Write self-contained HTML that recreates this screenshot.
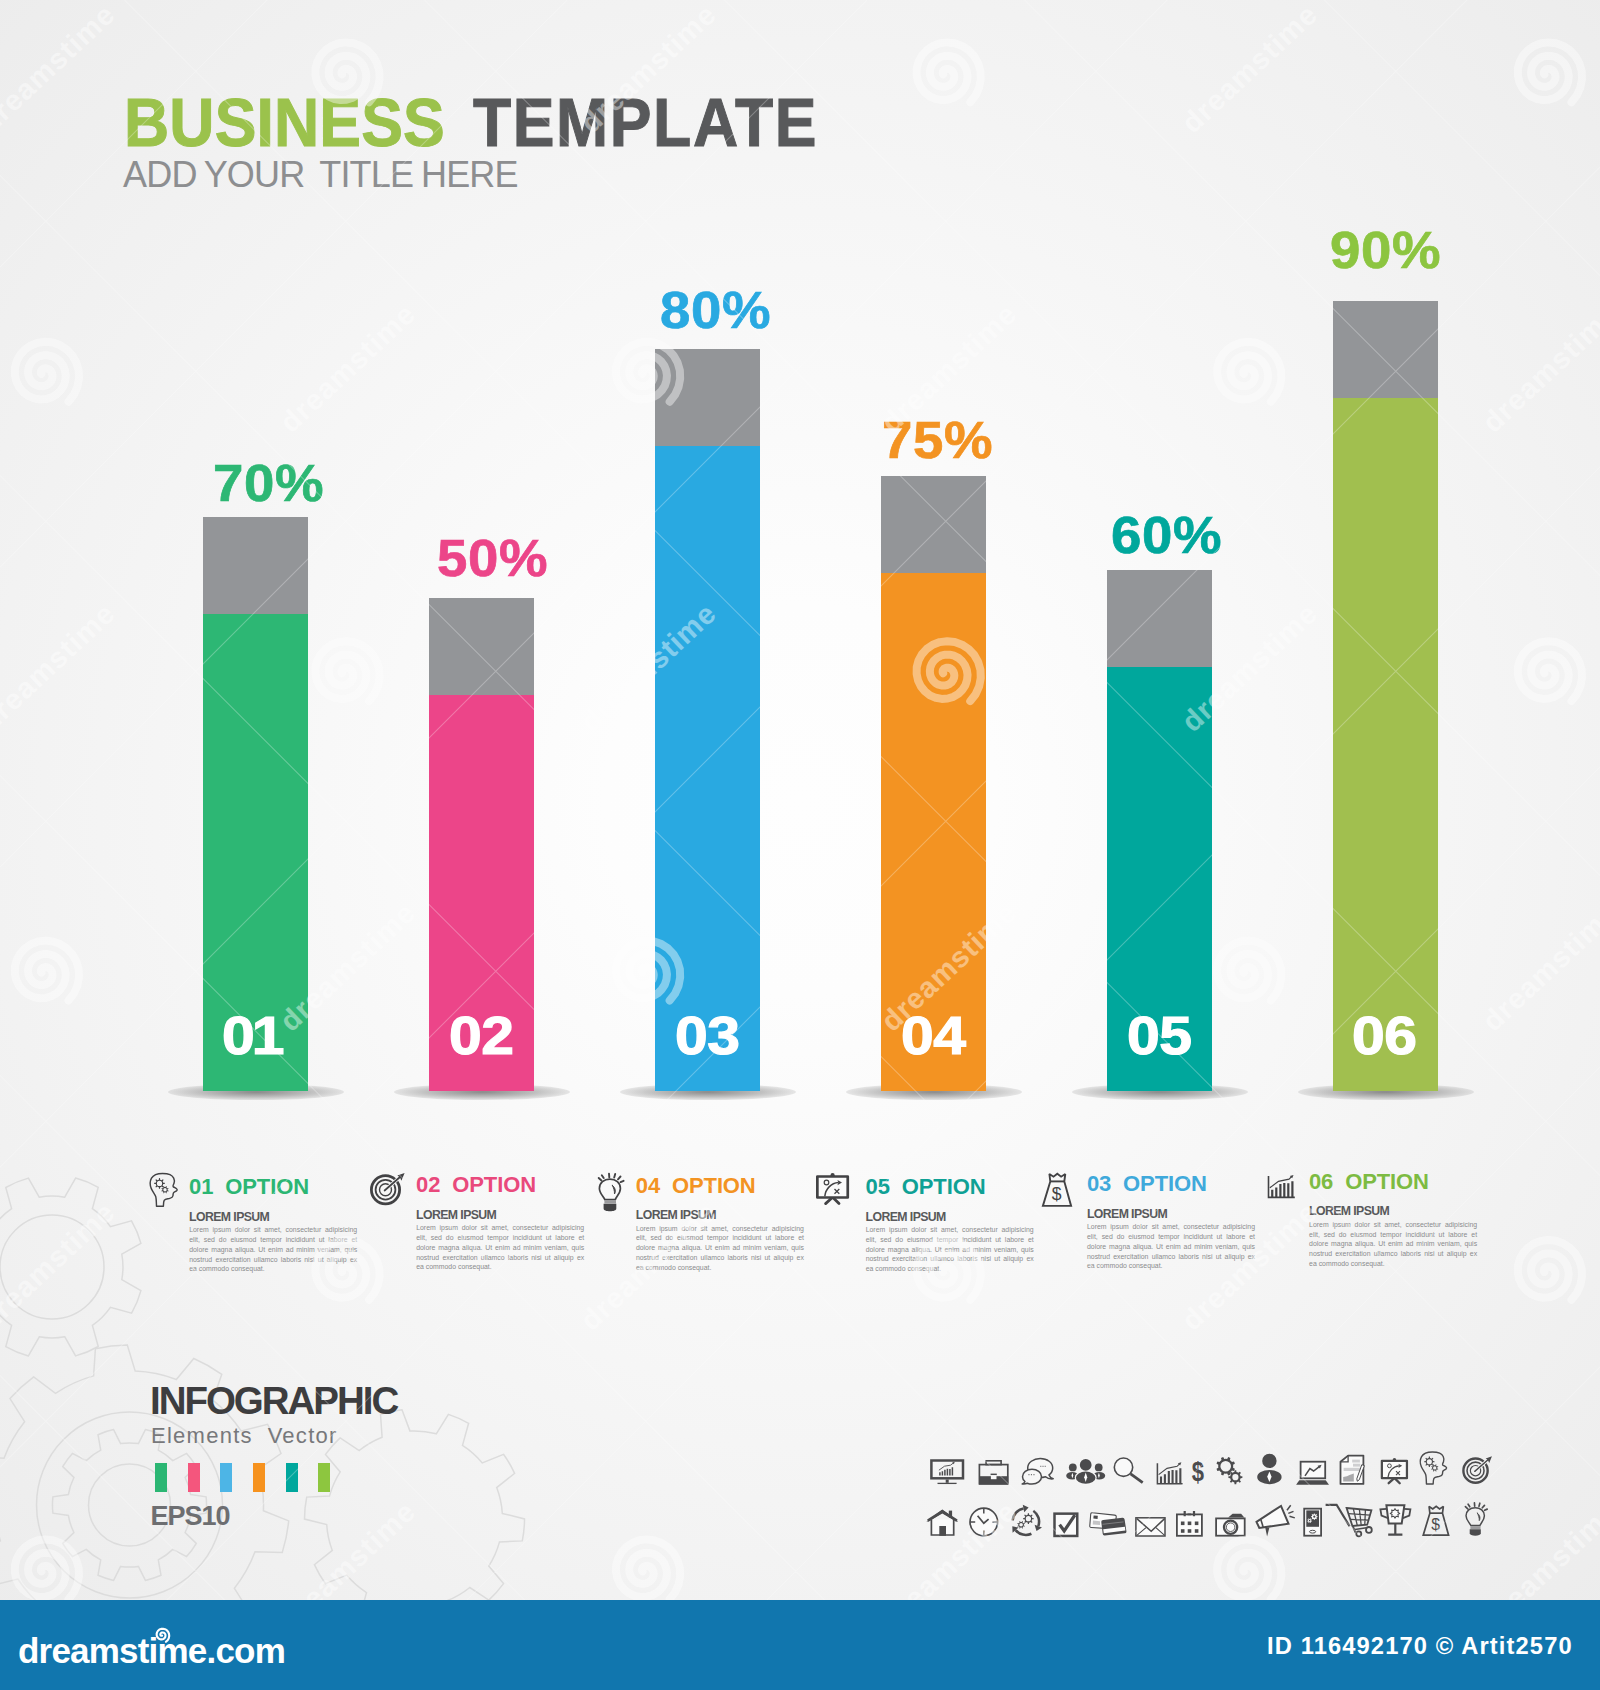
<!DOCTYPE html>
<html lang="en">
<head>
<meta charset="utf-8">
<title>Business Template Infographic</title>
<style>
*{margin:0;padding:0;box-sizing:border-box}
html,body{width:1600px;height:1690px;overflow:hidden}
body{font-family:"Liberation Sans",sans-serif;position:relative;
background:radial-gradient(circle 1150px at 800px 800px,#fefefe 0,#fdfdfd 17%,#ececec 100%);}
.abs{position:absolute;white-space:nowrap;line-height:1}
#t1{left:123.5px;top:88.2px;font-size:68px;font-weight:bold;color:#9bc24c;letter-spacing:.15px;-webkit-text-stroke:1px #9bc24c;transform:scaleX(.92);transform-origin:0 0}
#t2{left:472.6px;top:88.2px;font-size:68px;font-weight:bold;color:#58595b;letter-spacing:1.72px;-webkit-text-stroke:1px #58595b;transform:scaleX(.92);transform-origin:0 0}
#t3{left:123px;top:157px;font-size:36px;color:#8d8e90;letter-spacing:-.8px;word-spacing:-1.5px}
.bar{position:absolute;width:105px}
.bar .g{position:absolute;left:0;top:0;width:105px;height:98px;background:#939598}
.bar .c{position:absolute;left:0;top:97px;width:105px;bottom:0}
.sh{position:absolute;top:1084px;height:16px;width:176px;border-radius:50%;
background:radial-gradient(ellipse at center,rgba(95,95,95,.72) 0%,rgba(125,125,125,.5) 40%,rgba(165,165,165,.22) 72%,rgba(200,200,200,0) 100%)}
.pct{font-size:51px;font-weight:bold;letter-spacing:.6px;transform:scaleX(1.07);transform-origin:0 0;-webkit-text-stroke:.7px currentColor}
.num{top:1009.2px;font-size:53.5px;font-weight:bold;color:#fff;letter-spacing:-.4px;transform:scaleX(1.1);transform-origin:0 0;-webkit-text-stroke:1.2px #fff}
.oh{font-size:22px;font-weight:bold;word-spacing:0;letter-spacing:-.12px}
.ol{font-size:12.3px;font-weight:bold;color:#58595b;letter-spacing:-.6px}
.ob{position:absolute;width:168px;font-size:6.9px;line-height:9.75px;color:#8a8b8d}
.ob span{display:block;text-align:justify;text-align-last:justify;white-space:nowrap}
.ob span.l{text-align-last:left}
#foot{position:absolute;left:0;top:1600px;width:1600px;height:90px;background:#1176ae}
#logo{left:18px;top:1633px;font-size:35px;font-weight:bold;color:#fff;letter-spacing:-.8px}
#idt{left:1267px;top:1634.5px;font-size:23.7px;font-weight:bold;color:#fff;letter-spacing:1.13px}
#ig1{left:150px;top:1381.5px;font-size:38.5px;font-weight:bold;color:#3d3d3f;letter-spacing:-2.03px}
#ig2{left:151px;top:1425px;font-size:22px;color:#77787b;letter-spacing:1.27px}
#ig3{left:150.5px;top:1503px;font-size:27px;font-weight:bold;color:#6d6e71;letter-spacing:-1px}
.sw{position:absolute;top:1463px;width:12px;height:29px}
svg{position:absolute;overflow:visible}

</style>
</head>
<body>

<!-- background gears -->
<svg width="1600" height="1690" style="left:0;top:0" viewBox="0 0 1600 1690" fill="none" stroke="#dcdcdc" stroke-width="1.5">
<path d="M121.8 1279.7L140.9 1290.6A92 92 0 0 1 131.6 1313.2L110.4 1307.4A71 71 0 0 1 92.4 1325.4L98.2 1346.5A92 92 0 0 1 75.6 1355.9L64.8 1336.8A71 71 0 0 1 39.3 1336.8L28.4 1355.9A92 92 0 0 1 5.8 1346.6L11.6 1325.4A71 71 0 0 1 -6.4 1307.4L-27.5 1313.2A92 92 0 0 1 -36.9 1290.6L-17.8 1279.8A71 71 0 0 1 -17.8 1254.3L-36.9 1243.4A92 92 0 0 1 -27.6 1220.8L-6.4 1226.6A71 71 0 0 1 11.6 1208.6L5.8 1187.5A92 92 0 0 1 28.4 1178.1L39.2 1197.2A71 71 0 0 1 64.7 1197.2L75.6 1178.1A92 92 0 0 1 98.2 1187.4L92.4 1208.6A71 71 0 0 1 110.4 1226.6L131.5 1220.8A92 92 0 0 1 140.9 1243.4L121.8 1254.2A71 71 0 0 1 121.8 1279.7Z"/>
<circle cx="52" cy="1267" r="52"/>
<path d="M263.4 1510.7L288.7 1520.9A160 160 0 0 1 282.3 1552.4L255 1551.8A134 134 0 0 1 234.4 1588.3L249 1611.4A160 160 0 0 1 225.3 1633.1L203.5 1616.7A134 134 0 0 1 165.4 1634.1L163.6 1661.3A160 160 0 0 1 131.7 1665L123.8 1638.9A134 134 0 0 1 82.7 1630.5L65.2 1651.5A160 160 0 0 1 37.2 1635.7L46.2 1609.9A134 134 0 0 1 17.8 1579L-8.6 1585.7A160 160 0 0 1 -22 1556.5L0.4 1540.9A134 134 0 0 1 -4.4 1499.3L-29.7 1489.1A160 160 0 0 1 -23.3 1457.6L4 1458.2A134 134 0 0 1 24.6 1421.7L10 1398.6A160 160 0 0 1 33.7 1376.9L55.5 1393.3A134 134 0 0 1 93.6 1375.9L95.4 1348.7A160 160 0 0 1 127.3 1345L135.2 1371.1A134 134 0 0 1 176.3 1379.5L193.8 1358.5A160 160 0 0 1 221.8 1374.3L212.8 1400.1A134 134 0 0 1 241.2 1431L267.6 1424.3A160 160 0 0 1 281 1453.5L258.6 1469.1A134 134 0 0 1 263.4 1510.7Z"/>
<circle cx="129.5" cy="1505" r="93"/>
<path d="M190.6 1494.5L206.1 1496.8A77 77 0 0 1 206.1 1513.2L190.6 1515.5A62 62 0 0 1 185.1 1532.5L196.3 1543.4A77 77 0 0 1 186.6 1556.6L172.8 1549.4A62 62 0 0 1 158.3 1559.9L161 1575.3A77 77 0 0 1 145.4 1580.4L138.4 1566.4A62 62 0 0 1 120.6 1566.4L113.6 1580.4A77 77 0 0 1 98 1575.3L100.7 1559.9A62 62 0 0 1 86.2 1549.4L72.4 1556.6A77 77 0 0 1 62.7 1543.4L73.9 1532.5A62 62 0 0 1 68.4 1515.5L52.9 1513.2A77 77 0 0 1 52.9 1496.8L68.4 1494.5A62 62 0 0 1 73.9 1477.5L62.7 1466.6A77 77 0 0 1 72.4 1453.4L86.2 1460.6A62 62 0 0 1 100.7 1450.1L98 1434.7A77 77 0 0 1 113.6 1429.6L120.6 1443.6A62 62 0 0 1 138.4 1443.6L145.4 1429.6A77 77 0 0 1 161 1434.7L158.3 1450.1A62 62 0 0 1 172.8 1460.6L186.6 1453.4A77 77 0 0 1 196.3 1466.6L185.1 1477.5A62 62 0 0 1 190.6 1494.5Z"/>
<circle cx="129.5" cy="1505" r="41"/>
<path d="M502.3 1513.4L524.5 1518.9A110 110 0 0 1 522.3 1540.9L499.5 1541.9A88 88 0 0 1 488.8 1566.1L503.5 1583.6A110 110 0 0 1 488.8 1600.1L469.8 1587.5A88 88 0 0 1 446.9 1600.8L448.5 1623.6A110 110 0 0 1 427 1628.3L419 1606.9A88 88 0 0 1 392.7 1604.2L380.6 1623.6A110 110 0 0 1 360.4 1614.7L366.5 1592.7A88 88 0 0 1 346.7 1575.1L325.5 1583.7A110 110 0 0 1 314.4 1564.6L332.3 1550.4A88 88 0 0 1 326.7 1524.6L304.5 1519.1A110 110 0 0 1 306.7 1497.1L329.5 1496.1A88 88 0 0 1 340.2 1471.9L325.5 1454.4A110 110 0 0 1 340.2 1437.9L359.2 1450.5A88 88 0 0 1 382.1 1437.2L380.5 1414.4A110 110 0 0 1 402 1409.7L410 1431.1A88 88 0 0 1 436.3 1433.8L448.4 1414.4A110 110 0 0 1 468.6 1423.3L462.5 1445.3A88 88 0 0 1 482.3 1462.9L503.5 1454.3A110 110 0 0 1 514.6 1473.4L496.7 1487.6A88 88 0 0 1 502.3 1513.4Z"/>
</svg>

<!-- title -->
<div class="abs" id="t1">BUSINESS</div>
<div class="abs" id="t2">TEMPLATE</div>
<div class="abs" id="t3">ADD YOUR&nbsp; TITLE HERE</div>

<!-- bar shadows -->
<div class="sh" style="left:168px"></div>
<div class="sh" style="left:394px"></div>
<div class="sh" style="left:620px"></div>
<div class="sh" style="left:846px"></div>
<div class="sh" style="left:1072px"></div>
<div class="sh" style="left:1298px"></div>

<!-- bars -->
<div class="bar" style="left:203px;top:517px;height:574px"><div class="g"></div><div class="c" style="background:#2db774"></div></div>
<div class="bar" style="left:429px;top:598px;height:493px"><div class="g"></div><div class="c" style="background:#ec4589"></div></div>
<div class="bar" style="left:655px;top:349px;height:742px"><div class="g"></div><div class="c" style="background:#29a9e1"></div></div>
<div class="bar" style="left:881px;top:476px;height:615px"><div class="g"></div><div class="c" style="background:#f39322"></div></div>
<div class="bar" style="left:1107px;top:570px;height:521px"><div class="g"></div><div class="c" style="background:#00a79c"></div></div>
<div class="bar" style="left:1333px;top:301px;height:790px"><div class="g"></div><div class="c" style="background:#a1bf4f"></div></div>

<!-- percentages -->
<div class="abs pct" id="p1" style="left:213px;top:458px;color:#2db774">70%</div>
<div class="abs pct" id="p2" style="left:437px;top:533px;color:#ec4589">50%</div>
<div class="abs pct" id="p3" style="left:660px;top:285px;color:#29a9e1">80%</div>
<div class="abs pct" id="p4" style="left:882px;top:415px;color:#f39322">75%</div>
<div class="abs pct" id="p5" style="left:1111px;top:510px;color:#00a79c">60%</div>
<div class="abs pct" id="p6" style="left:1330px;top:225px;color:#8cc540">90%</div>

<!-- bar numbers -->
<div class="abs num" id="n1" style="left:221.5px;letter-spacing:-2.6px">01</div>
<div class="abs num" id="n2" style="left:449.2px">02</div>
<div class="abs num" id="n3" style="left:674.5px">03</div>
<div class="abs num" id="n4" style="left:900.7px">04</div>
<div class="abs num" id="n5" style="left:1126.8px">05</div>
<div class="abs num" id="n6" style="left:1352.3px">06</div>

<!-- options -->
<div class="abs oh" id="oh0" style="left:189.1px;top:1176.3px;color:#2bb673">01&nbsp; OPTION</div>
<div class="abs ol" id="ol0" style="left:189.1px;top:1210.7px">LOREM IPSUM</div>
<div class="ob" id="ob0" style="left:189.2px;top:1225.3px"><span>Lorem ipsum dolor sit amet, consectetur adipisicing</span><span>elit, sed do eiusmod tempor incididunt ut labore et</span><span>dolore magna aliqua. Ut enim ad minim veniam, quis</span><span>nostrud exercitation ullamco laboris nisi ut aliquip ex</span><span class="l">ea commodo consequat.</span></div>
<div class="abs oh" id="oh1" style="left:416.1px;top:1174.4px;color:#e9497c">02&nbsp; OPTION</div>
<div class="abs ol" id="ol1" style="left:416.1px;top:1208.8px">LOREM IPSUM</div>
<div class="ob" id="ob1" style="left:416.2px;top:1223.4px"><span>Lorem ipsum dolor sit amet, consectetur adipisicing</span><span>elit, sed do eiusmod tempor incididunt ut labore et</span><span>dolore magna aliqua. Ut enim ad minim veniam, quis</span><span>nostrud exercitation ullamco laboris nisi ut aliquip ex</span><span class="l">ea commodo consequat.</span></div>
<div class="abs oh" id="oh2" style="left:635.8px;top:1174.6px;color:#f39322">04&nbsp; OPTION</div>
<div class="abs ol" id="ol2" style="left:635.8px;top:1209px">LOREM IPSUM</div>
<div class="ob" id="ob2" style="left:635.9px;top:1223.6px"><span>Lorem ipsum dolor sit amet, consectetur adipisicing</span><span>elit, sed do eiusmod tempor incididunt ut labore et</span><span>dolore magna aliqua. Ut enim ad minim veniam, quis</span><span>nostrud exercitation ullamco laboris nisi ut aliquip ex</span><span class="l">ea commodo consequat.</span></div>
<div class="abs oh" id="oh3" style="left:865.6px;top:1176.1px;color:#0fa195">05&nbsp; OPTION</div>
<div class="abs ol" id="ol3" style="left:865.6px;top:1210.5px">LOREM IPSUM</div>
<div class="ob" id="ob3" style="left:865.7px;top:1225.1px"><span>Lorem ipsum dolor sit amet, consectetur adipisicing</span><span>elit, sed do eiusmod tempor incididunt ut labore et</span><span>dolore magna aliqua. Ut enim ad minim veniam, quis</span><span>nostrud exercitation ullamco laboris nisi ut aliquip ex</span><span class="l">ea commodo consequat.</span></div>
<div class="abs oh" id="oh4" style="left:1086.9px;top:1173.4px;color:#3fa9db">03&nbsp; OPTION</div>
<div class="abs ol" id="ol4" style="left:1086.9px;top:1207.8px">LOREM IPSUM</div>
<div class="ob" id="ob4" style="left:1087px;top:1222.4px"><span>Lorem ipsum dolor sit amet, consectetur adipisicing</span><span>elit, sed do eiusmod tempor incididunt ut labore et</span><span>dolore magna aliqua. Ut enim ad minim veniam, quis</span><span>nostrud exercitation ullamco laboris nisi ut aliquip ex</span><span class="l">ea commodo consequat.</span></div>
<div class="abs oh" id="oh5" style="left:1309px;top:1170.8px;color:#7dbb42">06&nbsp; OPTION</div>
<div class="abs ol" id="ol5" style="left:1309px;top:1205.2px">LOREM IPSUM</div>
<div class="ob" id="ob5" style="left:1309.1px;top:1219.8px"><span>Lorem ipsum dolor sit amet, consectetur adipisicing</span><span>elit, sed do eiusmod tempor incididunt ut labore et</span><span>dolore magna aliqua. Ut enim ad minim veniam, quis</span><span>nostrud exercitation ullamco laboris nisi ut aliquip ex</span><span class="l">ea commodo consequat.</span></div>

<!-- bottom-left info -->
<div class="abs" id="ig1">INFOGRAPHIC</div>
<div class="abs" id="ig2">Elements&nbsp; Vector</div>
<div class="sw" style="left:155px;background:#2bb673"></div>
<div class="sw" style="left:188px;background:#f4567d"></div>
<div class="sw" style="left:220px;background:#4db5e6"></div>
<div class="sw" style="left:253px;background:#f6921e"></div>
<div class="sw" style="left:286px;background:#00a79d"></div>
<div class="sw" style="left:318px;background:#8dc63f"></div>
<div class="abs" id="ig3">EPS10</div>

<!-- icons -->
<svg width="1600" height="1690" style="left:0;top:0" viewBox="0 0 1600 1690">
<defs>
<g id="i-head" fill="none" stroke-linejoin="round" stroke-linecap="round">
<path stroke-width="1.45" d="M22.5 8.4C17.5 8.4 13.3 10 11.5 13.2C9.6 16.6 10 20.5 11.3 23.6C12.6 26.6 14.9 29.3 15.7 31.5C16.3 33.3 16.3 35.5 16.5 41.2L23.4 41.2C23.5 38.5 23.5 36.6 24.2 35.4C25.2 33.8 27.6 34 29.8 33.4C31.6 32.9 32.7 32.2 32.9 31C33.1 29.9 33 28.6 33.5 27.9C34.2 26.9 35.8 26.6 36.8 25.5C37.4 24.8 37.1 24.1 36.3 23.5C35.2 22.7 33.6 22.3 33.1 21.5C32.7 20.8 33.5 19.6 34 18.3C34.6 16.7 34.5 14.8 33.7 13.1C32.9 11.4 31.7 10.4 30 9.6C28 8.7 25.5 8.4 22.5 8.4Z"/>
<path fill="currentColor" stroke="none" fill-rule="evenodd" d="M23.24 17.75L24.77 17.86A5.3 5.3 0 0 1 24.77 18.94L23.24 19.05A3.8 3.8 0 0 1 22.61 20.59L23.61 21.75A5.3 5.3 0 0 1 22.85 22.51L21.69 21.51A3.8 3.8 0 0 1 20.15 22.14L20.04 23.67A5.3 5.3 0 0 1 18.96 23.67L18.85 22.14A3.8 3.8 0 0 1 17.31 21.51L16.15 22.51A5.3 5.3 0 0 1 15.39 21.75L16.39 20.59A3.8 3.8 0 0 1 15.76 19.05L14.23 18.94A5.3 5.3 0 0 1 14.23 17.86L15.76 17.75A3.8 3.8 0 0 1 16.39 16.21L15.39 15.05A5.3 5.3 0 0 1 16.15 14.29L17.31 15.29A3.8 3.8 0 0 1 18.85 14.66L18.96 13.13A5.3 5.3 0 0 1 20.04 13.13L20.15 14.66A3.8 3.8 0 0 1 21.69 15.29L22.85 14.29A5.3 5.3 0 0 1 23.61 15.05L22.61 16.21A3.8 3.8 0 0 1 23.24 17.75ZM22.1 18.4a2.6 2.6 0 1 0 -5.2 0a2.6 2.6 0 1 0 5.2 0Z"/>
<path fill="currentColor" stroke="none" fill-rule="evenodd" d="M27.64 25.28L28.64 25.78A3.8 3.8 0 0 1 28.35 26.5L27.28 26.14A2.7 2.7 0 0 1 26.45 26.98L26.81 28.04A3.8 3.8 0 0 1 26.1 28.34L25.6 27.33A2.7 2.7 0 0 1 24.42 27.34L23.92 28.34A3.8 3.8 0 0 1 23.2 28.05L23.56 26.98A2.7 2.7 0 0 1 22.72 26.15L21.66 26.51A3.8 3.8 0 0 1 21.36 25.8L22.37 25.3A2.7 2.7 0 0 1 22.36 24.12L21.36 23.62A3.8 3.8 0 0 1 21.65 22.9L22.72 23.26A2.7 2.7 0 0 1 23.55 22.42L23.19 21.36A3.8 3.8 0 0 1 23.9 21.06L24.4 22.07A2.7 2.7 0 0 1 25.58 22.06L26.08 21.06A3.8 3.8 0 0 1 26.8 21.35L26.44 22.42A2.7 2.7 0 0 1 27.28 23.25L28.34 22.89A3.8 3.8 0 0 1 28.64 23.6L27.63 24.1A2.7 2.7 0 0 1 27.64 25.28ZM26.7 24.7a1.7 1.7 0 1 0 -3.4 0a1.7 1.7 0 1 0 3.4 0Z"/>
</g>
<g id="i-target" fill="none">
<circle cx="25.5" cy="24.7" r="14.1" stroke-width="2.8"/>
<circle cx="25.5" cy="24.7" r="9.9" stroke-width="1.8"/>
<circle cx="25.5" cy="24.7" r="6" stroke-width="1.4"/>
<path d="M24.6 25.5L40 12" stroke="#f6f6f6" stroke-width="3.6"/>
<path d="M24.6 25.5L40 12" stroke-width="1.7" stroke-linecap="round"/>
<path d="M44.6 7.9L37.3 10.5L39.9 12.3L41.4 15.8Z" fill="currentColor" stroke="none"/>
</g>
<g id="i-bulb" fill="none" stroke-linecap="round">
<path stroke-width="1.7" d="M18.9 34.6L29.3 34.6C30.4 31.4 34.4 28.3 34.4 23.4C34.4 18 29.8 14.1 23.9 14.1C18 14.1 13.4 18 13.4 23.4C13.4 28.3 17.6 31.4 18.9 34.6Z" stroke-linejoin="round"/>
<path d="M26.3 20.3C29.1 22.6 30.4 26 28.5 29C28.6 26 27.7 23 26.3 20.3Z" fill="currentColor" stroke-width=".9"/>
<path stroke-width="1.9" d="M12.7 13L15.4 15.5M15.8 10.2L17.7 13.1M23 8.7L23.3 12.4M29.2 9L28.2 12.5M34.5 11.5L32 14.3M37.6 15.8L34.6 17.1"/>
<rect x="18.4" y="35.2" width="11.6" height="3.3" fill="#9b9b9d" stroke="none"/>
<path d="M17.6 38.8L30.3 38.8L30.3 43.5C30.3 45.3 27.5 46.3 24 46.3C20.4 46.3 17.6 45.3 17.6 43.5Z" fill="currentColor" stroke="none"/>
</g>
<g id="i-board" fill="none">
<circle cx="26.6" cy="13.2" r="2.1" fill="currentColor" stroke="none"/>
<path d="M25.8 36L19.6 41.6M27.4 36L33 41.6" stroke-width="2.8" stroke-linecap="round"/>
<rect x="11.35" y="14.5" width="30.4" height="21" stroke-width="2.7" fill="#fbfbfb" stroke-linejoin="round"/>
<circle cx="20.5" cy="20.5" r="2.3" stroke-width="1.2"/>
<path d="M18.8 34.4C19.5 27 25 21 32.5 20.6" stroke-width="1.5"/>
<path d="M36 20.5L31.4 17.9L32.4 20.5L31.4 23.2Z" fill="currentColor" stroke="none"/>
<path d="M28.5 27L33.3 31.8M33.3 27L28.5 31.8" stroke-width="1.3"/>
</g>
<g id="i-bag" fill="none" stroke-linejoin="miter" stroke-miterlimit="2.2">
<path stroke-width="1.9" d="M10.9 40.9L39.1 40.9L32.3 16.4L33.3 9L29.1 11.7L25.3 8.7L21.5 11.7L17.4 9L18.3 16.4Z"/>
<path stroke-width="1.9" d="M18.3 16.4L32.3 16.4"/>
<text x="24.7" y="34.7" font-size="17.5" text-anchor="middle" fill="currentColor" stroke="none" style="font-family:'Liberation Sans',sans-serif">$</text>
</g>
<g id="i-chart" fill="none">
<path d="M12.5 15.9L12.5 37.4L38.8 37.4" stroke-width="1.6"/>
<path d="M16.25 37.3L16.25 29.7M20.3 37.3L20.3 27.5M24.4 37.3L24.4 24M28.3 37.3L28.3 23.1M32.3 37.3L32.3 23.3M36.4 37.3L36.4 21.25" stroke-width="2.2"/>
<path d="M13.8 27.8L22.5 21.3L33 19.2L35.6 16.6" stroke-width="1.2"/>
<path d="M37.5 14.9L33.8 16L36.2 18.3Z" fill="currentColor" stroke="none"/>
</g>
</defs>
<g stroke="#424244" color="#424244">
<use href="#i-head" x="140" y="1165"/>
<use href="#i-target" x="360" y="1165"/>
<use href="#i-bulb" x="586" y="1165"/>
<use href="#i-board" x="806" y="1162"/>
<use href="#i-bag" x="1032" y="1165"/>
<use href="#i-chart" x="1256" y="1160"/>
</g>
<g stroke="#4b4b4d" color="#4b4b4d">
<use href="#i-chart" transform="translate(1145.4 1447.9) scale(.96)"/>
<use href="#i-board" transform="translate(1372.5 1448.9) scale(.825)"/>
<use href="#i-head" transform="translate(1410.35 1443.8) scale(.975)"/>
<use href="#i-target" transform="translate(1453.6 1449.4) scale(.86)"/>
<use href="#i-bag" transform="translate(1413.4 1498.4) scale(.9)"/>
<use href="#i-bulb" transform="translate(1454.3 1495.3) scale(.875)"/>
<g fill="none">
<rect x="931.4" y="1460.5" width="31.6" height="17.8" stroke-width="2.5"/>
<path d="M945.7 1479.5h3v3.3h-3z" fill="currentColor" stroke="none"/>
<path d="M937.5 1483.4L956.6 1483.4" stroke-width="1.3"/>
<path d="M939.9 1475.6v-3.4M942.4 1475.6v-4.4M944.9 1475.6v-5.8M947.4 1475.6v-6.8M949.9 1475.6v-6.6M952.4 1475.6v-8.4" stroke-width="1.5"/>
<path d="M938.9 1470.2L944.5 1466.2L950.5 1465.2L953.6 1462.8" stroke-width=".9"/>
<path d="M954.8 1461.8l-2.6 .8l1.6 1.6z" fill="currentColor" stroke="none"/>
</g>
<g fill="none">
<rect x="986.1" y="1460.8" width="15" height="3.8" stroke-width="1.6"/>
<rect x="979.4" y="1464.6" width="28.4" height="19.2" stroke-width="1.7"/>
<rect x="979" y="1476.2" width="29.2" height="8.4" fill="currentColor" stroke="none"/>
<rect x="990.6" y="1473.6" width="6.2" height="1.6" fill="currentColor" stroke="none"/>
<rect x="990.9" y="1475.2" width="5.6" height="4" fill="#f8f8f8" stroke="none"/>
</g>
<g fill="#f7f7f7" stroke-width="1.5" stroke-linejoin="round">
<path d="M1040.2 1458.5C1047.3 1458.5 1052.7 1462.6 1052.7 1468C1052.7 1470.8 1051.3 1473.2 1049 1474.9C1049.6 1476.7 1051 1478 1053.2 1478.8C1050 1479.2 1047.4 1478.4 1045.6 1476.7C1044 1477.2 1042.1 1477.5 1040.2 1477.5C1033.3 1477.5 1027.7 1473.3 1027.7 1468C1027.7 1462.6 1033.3 1458.5 1040.2 1458.5Z"/>
<path d="M1032 1469.3C1037.3 1469.3 1041.5 1472.6 1041.5 1476.7C1041.5 1480.8 1037.3 1484.1 1032 1484.1C1030.3 1484.1 1028.7 1483.8 1027.3 1483.2C1026 1484 1024.3 1484.3 1022.2 1484C1023.7 1483.5 1024.6 1482.6 1025 1481.5C1023.4 1480.2 1022.5 1478.5 1022.5 1476.7C1022.5 1472.6 1026.7 1469.3 1032 1469.3Z"/>
<path d="M1040.3 1466.4h1M1042.5 1466.4h1M1044.7 1466.4h1M1028.4 1474.7h1.1M1030.9 1474.7h1.1M1033.4 1474.7h1.1" stroke-width="1.2" opacity=".75"/>
</g>
<g fill="currentColor" stroke="none">
<circle cx="1072.8" cy="1467.4" r="3.9"/><ellipse cx="1072.2" cy="1475.7" rx="6" ry="3.8"/>
<circle cx="1098.7" cy="1467.4" r="3.9"/><ellipse cx="1099.2" cy="1475.7" rx="6" ry="3.8"/>
<ellipse cx="1085.7" cy="1477.7" rx="11" ry="7.2" fill="#f6f6f6"/>
<circle cx="1085.7" cy="1464.9" r="6.9" fill="#f6f6f6"/>
<circle cx="1085.7" cy="1464.9" r="5.9"/><ellipse cx="1085.7" cy="1477.7" rx="9.8" ry="6.1"/>
<path d="M1085.7 1472.4l1.5 4.8l-1.5 4.8l-1.5 -4.8z" fill="#fff"/>
<path d="M1072.4 1472.8l.9 2.7l-.9 2.7l-.9 -2.7zM1098.9 1472.8l.9 2.7l-.9 2.7l-.9 -2.7z" fill="#fff"/>
</g>
<g fill="none">
<circle cx="1123.5" cy="1467.2" r="9.2" stroke-width="1.6" fill="#f9f9f9"/>
<path d="M1130.6 1473.9L1142.7 1482.7" stroke-width="2.8" stroke-linecap="butt"/>
</g>
<text transform="translate(1197.8 1481.3) scale(.8 1)" font-size="27.5" font-weight="bold" text-anchor="middle" fill="currentColor" stroke="none" style="font-family:'Liberation Sans',sans-serif">$</text>
<g fill="currentColor" stroke="none" fill-rule="evenodd">
<path d="M1233.06 1467.71L1234.86 1468.76A9.5 9.5 0 0 1 1233.95 1470.96L1231.94 1470.42A7.5 7.5 0 0 1 1229.87 1472.49L1230.41 1474.5A9.5 9.5 0 0 1 1228.21 1475.41L1227.16 1473.61A7.5 7.5 0 0 1 1224.24 1473.61L1223.19 1475.41A9.5 9.5 0 0 1 1220.99 1474.5L1221.53 1472.49A7.5 7.5 0 0 1 1219.46 1470.42L1217.45 1470.96A9.5 9.5 0 0 1 1216.54 1468.76L1218.34 1467.71A7.5 7.5 0 0 1 1218.34 1464.79L1216.54 1463.74A9.5 9.5 0 0 1 1217.45 1461.54L1219.46 1462.08A7.5 7.5 0 0 1 1221.53 1460.01L1220.99 1458A9.5 9.5 0 0 1 1223.19 1457.09L1224.24 1458.89A7.5 7.5 0 0 1 1227.16 1458.89L1228.21 1457.09A9.5 9.5 0 0 1 1230.41 1458L1229.87 1460.01A7.5 7.5 0 0 1 1231.94 1462.08L1233.95 1461.54A9.5 9.5 0 0 1 1234.86 1463.74L1233.06 1464.79A7.5 7.5 0 0 1 1233.06 1467.71ZM1231 1466.25a5.3 5.3 0 1 0 -10.6 0a5.3 5.3 0 1 0 10.6 0Z"/>
<path d="M1240.6 1476.17L1242.34 1476.32A7 7 0 0 1 1242.34 1478.08L1240.6 1478.23A5.3 5.3 0 0 1 1239.81 1480.14L1240.93 1481.49A7 7 0 0 1 1239.69 1482.73L1238.34 1481.61A5.3 5.3 0 0 1 1236.43 1482.4L1236.28 1484.14A7 7 0 0 1 1234.52 1484.14L1234.37 1482.4A5.3 5.3 0 0 1 1232.46 1481.61L1231.11 1482.73A7 7 0 0 1 1229.87 1481.49L1230.99 1480.14A5.3 5.3 0 0 1 1230.2 1478.23L1228.46 1478.08A7 7 0 0 1 1228.46 1476.32L1230.2 1476.17A5.3 5.3 0 0 1 1230.99 1474.26L1229.87 1472.91A7 7 0 0 1 1231.11 1471.67L1232.46 1472.79A5.3 5.3 0 0 1 1234.37 1472L1234.52 1470.26A7 7 0 0 1 1236.28 1470.26L1236.43 1472A5.3 5.3 0 0 1 1238.34 1472.79L1239.69 1471.67A7 7 0 0 1 1240.93 1472.91L1239.81 1474.26A5.3 5.3 0 0 1 1240.6 1476.17ZM1238.5 1477.2a3.1 3.1 0 1 0 -6.2 0a3.1 3.1 0 1 0 6.2 0Z"/>
</g>
<g fill="currentColor" stroke="none">
<circle cx="1269.4" cy="1460.9" r="7.2"/>
<ellipse cx="1269.4" cy="1477.1" rx="12.2" ry="7.1"/>
<path d="M1269.4 1471.6l2.2 5.2l-2.2 5.2l-2.2 -5.2z" fill="#fff"/>
</g>
<g fill="none">
<rect x="1300.6" y="1461.7" width="24.6" height="16.6" stroke-width="1.8" fill="#fafafa"/>
<path d="M1299.3 1480.3L1325.7 1480.3L1329 1484.8L1296.1 1484.8Z" fill="currentColor" stroke="none"/>
<path d="M1305 1475.9L1309.9 1468.6L1313.6 1471L1319.6 1466.3" stroke-width="1.5"/>
<path d="M1321.6 1464.7l-4 1l2.3 2.9z" fill="currentColor" stroke="none"/>
</g>
<g fill="none">
<path d="M1348.1 1455.6L1363.4 1455.6L1363.4 1483.9L1340.5 1483.9L1340.5 1461.8Z" stroke-width="1.8" fill="#fafafa" stroke-linejoin="round"/>
<path d="M1348.1 1455.6L1348.1 1461.8L1340.5 1461.8" stroke-width="1.3"/>
<rect x="1352.2" y="1459.6" width="7.7" height="2.9" fill="#cfcfd1" stroke="none"/>
<rect x="1353" y="1463.7" width="7.3" height="2.9" fill="#cfcfd1" stroke="none"/>
<rect x="1343.6" y="1467.8" width="17.1" height="3.2" fill="#cfcfd1" stroke="none"/>
<path d="M1343.2 1481.6L1343.2 1477L1347 1476.2L1349.5 1475L1353.8 1473.4L1353.8 1481.6Z" fill="#a9a9ab" stroke="none"/>
<path d="M1361.8 1464.7L1364.4 1465.6L1359.3 1479.7L1357.3 1481.2L1356.8 1478.8Z" fill="#fff" stroke-width="1" stroke-linejoin="round"/>
</g>
<g fill="none">
<path d="M931.4 1519.5V1535H953.7V1519.5" stroke-width="1.7" fill="#fafafa"/>
<path d="M948.8 1510.6h3.3v7h-3.3z" fill="currentColor" stroke="none"/>
<path d="M926.4 1521.5L942.3 1509.6L958.3 1521.5L956.3 1521.5L942.3 1513.6L928.4 1521.5Z" fill="currentColor" stroke="none"/>
<path d="M927.8 1520.6L942.3 1511.4L956.9 1520.6" stroke-width="2.6" stroke-linejoin="miter"/>
<rect x="939.3" y="1526" width="6.7" height="9.8" fill="currentColor" stroke="none"/>
</g>
<g fill="none">
<circle cx="983.8" cy="1522" r="13.8" stroke-width="1.7" fill="#fafafa"/>
<path d="M983.8 1508.2v5.2M983.8 1535.8v-5.2M970 1522h5.2M997.6 1522h-5.2" stroke-width="1.5"/>
<path d="M977.6 1515.7L983.8 1523.2L988.6 1519.1" stroke-width="1.7" stroke-linejoin="miter"/>
</g>
<g fill="none"><path d="M1012.6 1520.4A13.3 13.3 0 0 1 1023.5 1508.5" stroke-width="2.6"/><path d="M1028.6 1507.6L1022.8 1504.7L1024.2 1512.3Z" fill="currentColor" stroke="none"/><path d="M1033.4 1510.7A13.3 13.3 0 0 1 1038.3 1526.1" stroke-width="2.6"/><path d="M1036.5 1531L1042 1527.5L1034.6 1524.8Z" fill="currentColor" stroke="none"/><path d="M1031.4 1533.7A13.3 13.3 0 0 1 1015.6 1530.1" stroke-width="2.6"/><path d="M1012.3 1526.2L1012.6 1532.7L1018.6 1527.6Z" fill="currentColor" stroke="none"/><path d="M1032.24 1518.03L1033.77 1518.15A5.4 5.4 0 0 1 1033.77 1519.25L1032.24 1519.37A3.9 3.9 0 0 1 1031.59 1520.94L1032.59 1522.11A5.4 5.4 0 0 1 1031.81 1522.89L1030.64 1521.89A3.9 3.9 0 0 1 1029.07 1522.54L1028.95 1524.07A5.4 5.4 0 0 1 1027.85 1524.07L1027.73 1522.54A3.9 3.9 0 0 1 1026.16 1521.89L1024.99 1522.89A5.4 5.4 0 0 1 1024.21 1522.11L1025.21 1520.94A3.9 3.9 0 0 1 1024.56 1519.37L1023.03 1519.25A5.4 5.4 0 0 1 1023.03 1518.15L1024.56 1518.03A3.9 3.9 0 0 1 1025.21 1516.46L1024.21 1515.29A5.4 5.4 0 0 1 1024.99 1514.51L1026.16 1515.51A3.9 3.9 0 0 1 1027.73 1514.86L1027.85 1513.33A5.4 5.4 0 0 1 1028.95 1513.33L1029.07 1514.86A3.9 3.9 0 0 1 1030.64 1515.51L1031.81 1514.51A5.4 5.4 0 0 1 1032.59 1515.29L1031.59 1516.46A3.9 3.9 0 0 1 1032.24 1518.03ZM1031 1518.7a2.6 2.6 0 1 0 -5.2 0a2.6 2.6 0 1 0 5.2 0Z" fill="currentColor" stroke="none" fill-rule="evenodd"/><path d="M1023.83 1525.4L1024.84 1525.91A3.9 3.9 0 0 1 1024.54 1526.64L1023.47 1526.29A2.8 2.8 0 0 1 1022.61 1527.16L1022.96 1528.23A3.9 3.9 0 0 1 1022.23 1528.53L1021.72 1527.53A2.8 2.8 0 0 1 1020.5 1527.53L1019.99 1528.54A3.9 3.9 0 0 1 1019.26 1528.24L1019.61 1527.17A2.8 2.8 0 0 1 1018.74 1526.31L1017.67 1526.66A3.9 3.9 0 0 1 1017.37 1525.93L1018.37 1525.42A2.8 2.8 0 0 1 1018.37 1524.2L1017.36 1523.69A3.9 3.9 0 0 1 1017.66 1522.96L1018.73 1523.31A2.8 2.8 0 0 1 1019.59 1522.44L1019.24 1521.37A3.9 3.9 0 0 1 1019.97 1521.07L1020.48 1522.07A2.8 2.8 0 0 1 1021.7 1522.07L1022.21 1521.06A3.9 3.9 0 0 1 1022.94 1521.36L1022.59 1522.43A2.8 2.8 0 0 1 1023.46 1523.29L1024.53 1522.94A3.9 3.9 0 0 1 1024.83 1523.67L1023.83 1524.18A2.8 2.8 0 0 1 1023.83 1525.4ZM1022.9 1524.8a1.8 1.8 0 1 0 -3.6 0a1.8 1.8 0 1 0 3.6 0Z" fill="currentColor" stroke="none" fill-rule="evenodd"/></g>
<g fill="none">
<rect x="1054.5" y="1513.65" width="22.75" height="22.3" stroke-width="2.5" fill="#fafafa"/>
<path d="M1059.6 1524.6L1064.2 1531L1074.9 1515" stroke-width="3.2" stroke-linejoin="miter"/>
</g>
<g fill="none">
<path d="M1092.4 1512.7L1114.6 1515.1Q1116.4 1515.3 1116.2 1517.1L1114.9 1527.4Q1114.7 1529.1 1112.9 1528.9L1091.3 1527.5Q1089.6 1527.4 1089.8 1525.6L1090.7 1514.3Q1090.9 1512.5 1092.4 1512.7Z" stroke-width="1.1" fill="#fbfbfb"/>
<rect x="1093.5" y="1515.5" width="4.2" height="3.2" fill="currentColor" stroke="none" transform="rotate(5 1095 1517)"/>
<path d="M1093 1520.5L1100 1521.2L1100 1525L1092.7 1524.4Z" fill="#c4c4c6" stroke="none"/>
<path d="M1103.2 1519.9L1122.4 1517.8Q1124.3 1517.6 1124.6 1519.5L1126.4 1531.2Q1126.7 1533.1 1124.7 1533.3L1104.8 1535.5Q1102.9 1535.7 1102.7 1533.8L1101.3 1522Q1101.1 1520.1 1103.2 1519.9Z" fill="currentColor" stroke="none"/>
<path d="M1103.2 1529.3L1124.9 1526.8L1125.4 1530.6L1103.7 1533.2Z" fill="#fbfbfb" stroke="none"/>
<path d="M1102.5 1524.3L1123.5 1521.9" stroke="#8a8a8c" stroke-width=".8"/>
</g>
<g fill="none">
<rect x="1135.9" y="1517.8" width="29.1" height="18.2" stroke-width="1.5" fill="#fbfbfb"/>
<path d="M1136.8 1518.6L1151.2 1531.3L1164.6 1518.6" stroke-width="1.5" stroke-linejoin="miter"/>
<path d="M1136.8 1535.4L1146 1527.6M1164.6 1535.4L1155.9 1527.6" stroke-width="1.1"/>
</g>
<g fill="none">
<rect x="1176.9" y="1514.4" width="25" height="21.4" stroke-width="1.8" fill="#fbfbfb"/>
<path d="M1184.7 1510.9v5.4M1194 1510.9v5.4" stroke-width="2.2"/>
<path d="M1187.5 1514.4h3.7" stroke-width="1.8"/>
<rect x="1180.9" y="1521.5" width="3.6" height="3.6" fill="currentColor" stroke="none"/><rect x="1180.9" y="1529.2" width="3.6" height="3.6" fill="currentColor" stroke="none"/><rect x="1187.7" y="1521.5" width="3.6" height="3.6" fill="currentColor" stroke="none"/><rect x="1187.7" y="1529.2" width="3.6" height="3.6" fill="currentColor" stroke="none"/><rect x="1194.8" y="1521.5" width="3.6" height="3.6" fill="currentColor" stroke="none"/><rect x="1194.8" y="1529.2" width="3.6" height="3.6" fill="currentColor" stroke="none"/>
</g>
<g fill="none">
<rect x="1216.1" y="1518.4" width="28.6" height="17.3" stroke-width="1.8" fill="#fbfbfb"/>
<path d="M1228.2 1517.6L1232.6 1513.8L1241.1 1513.8L1244.3 1517.6Z" fill="currentColor" stroke="none"/>
<circle cx="1230.6" cy="1527.2" r="6.6" stroke-width="2.3"/>
<circle cx="1230.6" cy="1527.2" r="4.3" stroke-width=".9"/>
</g>
<g fill="none">
<path d="M1256.5 1521.8L1281 1505.9L1288.5 1523.7L1259.3 1528Z" stroke-width="2" fill="#fbfbfb" stroke-linejoin="miter"/>
<path d="M1260.8 1519.6L1263.2 1527.2" stroke-width="1.6"/>
<path d="M1265.3 1528L1269.4 1527.5L1267.1 1536.4Z" fill="currentColor" stroke="none"/>
<path d="M1287 1510.2L1290.7 1505.3M1288.3 1513.4L1293.5 1511.4M1289.5 1516.3L1294.8 1517.9" stroke-width="1.5"/>
</g>
<g fill="none">
<rect x="1304.2" y="1508.65" width="16.9" height="27.05" stroke-width="1.8" fill="#fbfbfb"/>
<rect x="1306.3" y="1510.4" width="12.7" height="16.4" fill="currentColor" stroke="none"/>
<path d="M1316.65 1516.21L1317.57 1516.29A3.3 3.3 0 0 1 1317.57 1517.11L1316.65 1517.19A2.4 2.4 0 0 1 1316.31 1518.02L1316.91 1518.72A3.3 3.3 0 0 1 1316.32 1519.31L1315.62 1518.71A2.4 2.4 0 0 1 1314.79 1519.05L1314.71 1519.97A3.3 3.3 0 0 1 1313.89 1519.97L1313.81 1519.05A2.4 2.4 0 0 1 1312.98 1518.71L1312.28 1519.31A3.3 3.3 0 0 1 1311.69 1518.72L1312.29 1518.02A2.4 2.4 0 0 1 1311.95 1517.19L1311.03 1517.11A3.3 3.3 0 0 1 1311.03 1516.29L1311.95 1516.21A2.4 2.4 0 0 1 1312.29 1515.38L1311.69 1514.68A3.3 3.3 0 0 1 1312.28 1514.09L1312.98 1514.69A2.4 2.4 0 0 1 1313.81 1514.35L1313.89 1513.43A3.3 3.3 0 0 1 1314.71 1513.43L1314.79 1514.35A2.4 2.4 0 0 1 1315.62 1514.69L1316.32 1514.09A3.3 3.3 0 0 1 1316.91 1514.68L1316.31 1515.38A2.4 2.4 0 0 1 1316.65 1516.21Z" fill="#fff" stroke="none"/><circle cx="1314.3" cy="1516.7" r="1.1" fill="currentColor" stroke="none"/>
<path d="M1311.27 1520.91L1311.92 1521.23A2.4 2.4 0 0 1 1311.69 1521.78L1311.01 1521.55A1.7 1.7 0 0 1 1310.56 1522L1310.79 1522.68A2.4 2.4 0 0 1 1310.24 1522.91L1309.92 1522.27A1.7 1.7 0 0 1 1309.29 1522.27L1308.97 1522.92A2.4 2.4 0 0 1 1308.42 1522.69L1308.65 1522.01A1.7 1.7 0 0 1 1308.2 1521.56L1307.52 1521.79A2.4 2.4 0 0 1 1307.29 1521.24L1307.93 1520.92A1.7 1.7 0 0 1 1307.93 1520.29L1307.28 1519.97A2.4 2.4 0 0 1 1307.51 1519.42L1308.19 1519.65A1.7 1.7 0 0 1 1308.64 1519.2L1308.41 1518.52A2.4 2.4 0 0 1 1308.96 1518.29L1309.28 1518.93A1.7 1.7 0 0 1 1309.91 1518.93L1310.23 1518.28A2.4 2.4 0 0 1 1310.78 1518.51L1310.55 1519.19A1.7 1.7 0 0 1 1311 1519.64L1311.68 1519.41A2.4 2.4 0 0 1 1311.91 1519.96L1311.27 1520.28A1.7 1.7 0 0 1 1311.27 1520.91Z" fill="#fff" stroke="none"/><circle cx="1309.6" cy="1520.6" r=".8" fill="currentColor" stroke="none"/>
<ellipse cx="1312.6" cy="1531.7" rx="3.1" ry="1.4" stroke-width="1"/>
</g>
<g fill="none">
<path d="M1325.6 1504.8L1336.6 1504.8L1349.6 1526.3" stroke-width="2.2" stroke-linejoin="miter"/>
<path d="M1346.6 1508L1371.4 1510.3L1367.2 1524.7L1352.4 1526Z" stroke-width="1.8" stroke-linejoin="miter"/>
<path d="M1348.4 1513.6L1370 1515.2M1350.3 1519.4L1368.5 1520.1M1353.3 1508.6L1357.3 1525.5M1359.4 1509.2L1361.2 1525.2M1365.4 1509.8L1364.8 1524.9" stroke-width="1.3"/>
<path d="M1352.6 1526L1355.6 1532.5" stroke-width="1.8"/>
<path d="M1355 1529.5L1366.5 1527.8" stroke-width="1.5"/>
<circle cx="1358.8" cy="1533.8" r="2.5" stroke-width="1.8"/>
<circle cx="1368.9" cy="1529.9" r="2.9" stroke-width="1.8"/>
</g>
<g fill="none">
<path d="M1386.4 1505.2L1404.4 1505.2L1401.7 1523.6L1388.7 1523.6Z" stroke-width="2" stroke-linejoin="miter" fill="#fbfbfb"/>
<path d="M1386.7 1508.8L1380.4 1509.4L1381.5 1515.7L1388 1518.2" stroke-width="1.8"/>
<path d="M1404.1 1508.8L1410.4 1509.4L1409.3 1515.7L1402.8 1518.2" stroke-width="1.8"/>
<path d="M1395.3 1523.6L1395.3 1534.4M1388.2 1534.6L1402.4 1534.6" stroke-width="2.2"/>
<path d="M1395 1508.8L1396.2 1510.5L1398.3 1510.1L1397.9 1512.2L1399.6 1513.4L1397.9 1514.6L1398.3 1516.7L1396.2 1516.3L1395 1518L1393.8 1516.3L1391.7 1516.7L1392.1 1514.6L1390.4 1513.4L1392.1 1512.2L1391.7 1510.1L1393.8 1510.5Z" stroke-width="1.1"/>
</g>
</g>
</svg>

<!-- watermark -->
<svg width="1600" height="1600" viewBox="0 0 1600 1600" fill="none" stroke="#fff" stroke-width="8" stroke-linecap="round" stroke-linejoin="round" opacity=".42" id="wm" style="left:0;top:0;overflow:hidden">
<g style="font-family:'Liberation Sans',sans-serif;font-size:29px;font-weight:bold;letter-spacing:1px" text-anchor="middle" fill="#fff" stroke="none">
<text transform="translate(47.7 69.25) rotate(-43)" x="0" y="9">dreamstime</text>
<text transform="translate(648.9 69.25) rotate(-43)" x="0" y="9">dreamstime</text>
<text transform="translate(1250.1 69.25) rotate(-43)" x="0" y="9">dreamstime</text>
<text transform="translate(348.3 368.65) rotate(-43)" x="0" y="9">dreamstime</text>
<text transform="translate(949.5 368.65) rotate(-43)" x="0" y="9">dreamstime</text>
<text transform="translate(1550.7 368.65) rotate(-43)" x="0" y="9">dreamstime</text>
<text transform="translate(47.7 668.05) rotate(-43)" x="0" y="9">dreamstime</text>
<text transform="translate(648.9 668.05) rotate(-43)" x="0" y="9">dreamstime</text>
<text transform="translate(1250.1 668.05) rotate(-43)" x="0" y="9">dreamstime</text>
<text transform="translate(348.3 967.45) rotate(-43)" x="0" y="9">dreamstime</text>
<text transform="translate(949.5 967.45) rotate(-43)" x="0" y="9">dreamstime</text>
<text transform="translate(1550.7 967.45) rotate(-43)" x="0" y="9">dreamstime</text>
<text transform="translate(47.7 1266.85) rotate(-43)" x="0" y="9">dreamstime</text>
<text transform="translate(648.9 1266.85) rotate(-43)" x="0" y="9">dreamstime</text>
<text transform="translate(1250.1 1266.85) rotate(-43)" x="0" y="9">dreamstime</text>
<text transform="translate(348.3 1566.25) rotate(-43)" x="0" y="9">dreamstime</text>
<text transform="translate(949.5 1566.25) rotate(-43)" x="0" y="9">dreamstime</text>
<text transform="translate(1550.7 1566.25) rotate(-43)" x="0" y="9">dreamstime</text>
</g>
<defs><path id="wsp" d="M-2.2 -0.2L-2.6 -0.8L-2.7 -1.7L-2.6 -2.6L-2.2 -3.6L-1.4 -4.5L-0.4 -5.2L0.9 -5.6L2.4 -5.7L3.9 -5.4L5.5 -4.7L6.9 -3.5L8 -1.9L8.7 -0L9 2.1L8.7 4.4L7.8 6.6L6.3 8.7L4.3 10.4L1.9 11.6L-0.9 12.2L-3.9 12.1L-6.9 11.3L-9.7 9.8L-12.1 7.5L-14 4.6L-15.2 1.3L-15.5 -2.4L-15 -6.1L-13.6 -9.7L-11.3 -13L-8.2 -15.7L-4.4 -17.7L-0.2 -18.7L4.3 -18.7L8.8 -17.7L13 -15.5L16.6 -12.4L19.5 -8.4L21.4 -3.7L22.2 1.5L21.7 6.7L20 11.9L17 16.5L13 20.5L8 23.4L2.4 25.1L-3.6 25.5L-9.6 24.4L-15.4 21.9L-20.4 18L-24.5 13L-27.3 7.1L-28.7 0.5L-28.6 -6.3L-26.8 -13L-23.4 -19.2L-18.6 -24.5L-12.6 -28.6L-5.6 -31.3L1.8 -32.2L9.4 -31.4L16.7 -28.7L23.3 -24.4L28.8 -18.6L32.8 -11.5L35.1 -3.6L35.4 4.7L33.8 13L30.3 20.8L24.9 27.7"/></defs>
<use href="#wsp" x="344.15" y="74.6"/>
<use href="#wsp" x="945.35" y="74.6"/>
<use href="#wsp" x="1546.55" y="74.6"/>
<use href="#wsp" x="43.55" y="374"/>
<use href="#wsp" x="644.75" y="374"/>
<use href="#wsp" x="1245.95" y="374"/>
<use href="#wsp" x="344.15" y="673.4"/>
<use href="#wsp" x="945.35" y="673.4"/>
<use href="#wsp" x="1546.55" y="673.4"/>
<use href="#wsp" x="43.55" y="972.8"/>
<use href="#wsp" x="644.75" y="972.8"/>
<use href="#wsp" x="1245.95" y="972.8"/>
<use href="#wsp" x="344.15" y="1272.2"/>
<use href="#wsp" x="945.35" y="1272.2"/>
<use href="#wsp" x="1546.55" y="1272.2"/>
<use href="#wsp" x="43.55" y="1571.6"/>
<use href="#wsp" x="644.75" y="1571.6"/>
<use href="#wsp" x="1245.95" y="1571.6"/>
<path d="M0 -1624.5L1600 -24.5M0 -1324.5L1600 275.5M0 -1024.5L1600 575.5M0 -724.5L1600 875.5M0 -424.5L1600 1175.5M0 -124.5L1600 1475.5M0 175.5L1600 1775.5M0 475.5L1600 2075.5M0 775.5L1600 2375.5M0 1075.5L1600 2675.5M0 1375.5L1600 2975.5M0 1675.5L1600 3275.5M0 1975.5L1600 3575.5M0 267L267 0M0 567L567 0M0 867L867 0M0 1167L1167 0M0 1467L1467 0M0 1767L1767 0M0 2067L2067 0M0 2367L2367 0M0 2667L2667 0M0 2967L2967 0M0 3267L3267 0M0 3567L3567 0" stroke-width="1.1" opacity=".65"/>
</svg>

<!-- footer -->
<div id="foot"></div>
<div class="abs" id="logo">dreamstime.com</div>
<svg width="24" height="24" style="left:150px;top:1623px" viewBox="-12 -12 24 24" fill="none" stroke="#fff" stroke-width="2.1" stroke-linecap="round" stroke-linejoin="round"><path d="M0.1 0.49L-0.07 0.68L-0.34 0.8L-0.68 0.8L-1.05 0.65L-1.38 0.35L-1.6 -0.09L-1.67 -0.64L-1.54 -1.22L-1.21 -1.78L-0.66 -2.24L0.05 -2.52L0.86 -2.56L1.7 -2.33L2.48 -1.82L3.08 -1.05L3.44 -0.07L3.48 1.02L3.16 2.12L2.49 3.12L1.5 3.9L0.26 4.35L-1.11 4.41L-2.48 4.02L-3.72 3.21L-4.68 2.01L-5.25 0.52L-5.35 -1.12L-4.92 -2.77L-3.98 -4.26L-2.59 -5.43L-0.86 -6.14L1.06 -6.29L3 -5.84L4.75 -4.8L6.14 -3.23L7 -1.26L7.24 0.93L6.79 3.15L5.66 5.18L3.93 6.8"/></svg>
<div class="abs" id="idt">ID 116492170 © Artit2570</div>

</body>
</html>
